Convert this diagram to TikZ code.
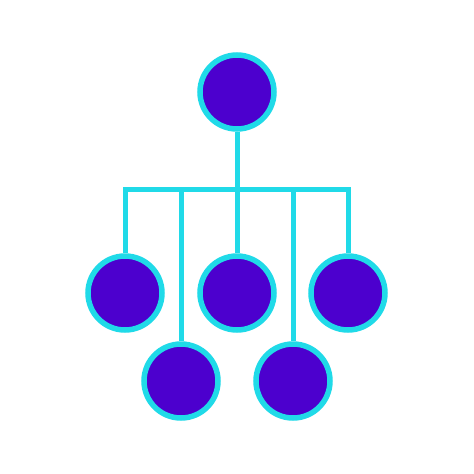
\documentclass[tikz,border=0pt]{standalone}
\definecolor{circfill}{RGB}{76,0,206}
\definecolor{cyanline}{RGB}{32,218,232}
\begin{document}
\begin{tikzpicture}[x=1pt,y=-1pt,
  orgnode/.style={circle,draw=cyanline,fill=circfill,line width=5.5pt,minimum size=74pt,inner sep=0pt},
  conn/.style={draw=cyanline,line width=5pt,line join=miter}]
\useasboundingbox[fill=white] (0,0) rectangle (474,474);
\node[orgnode] (t) at (237,92) {};
\node[orgnode] (m1) at (125,293) {};
\node[orgnode] (m2) at (237,293) {};
\node[orgnode] (m3) at (348,293) {};
\node[orgnode] (b1) at (181,381) {};
\node[orgnode] (b2) at (293,381) {};
\coordinate (bar) at (237,189);
\coordinate (barb1) at (181,189);
\coordinate (barb2) at (293,189);
\draw[conn] (m1) |- (bar) -| (m3);
\draw[conn] (t) -- (bar);
\draw[conn] (bar) -- (m2);
\draw[conn] (barb1) -- (b1);
\draw[conn] (barb2) -- (b2);
\end{tikzpicture}
\end{document}
